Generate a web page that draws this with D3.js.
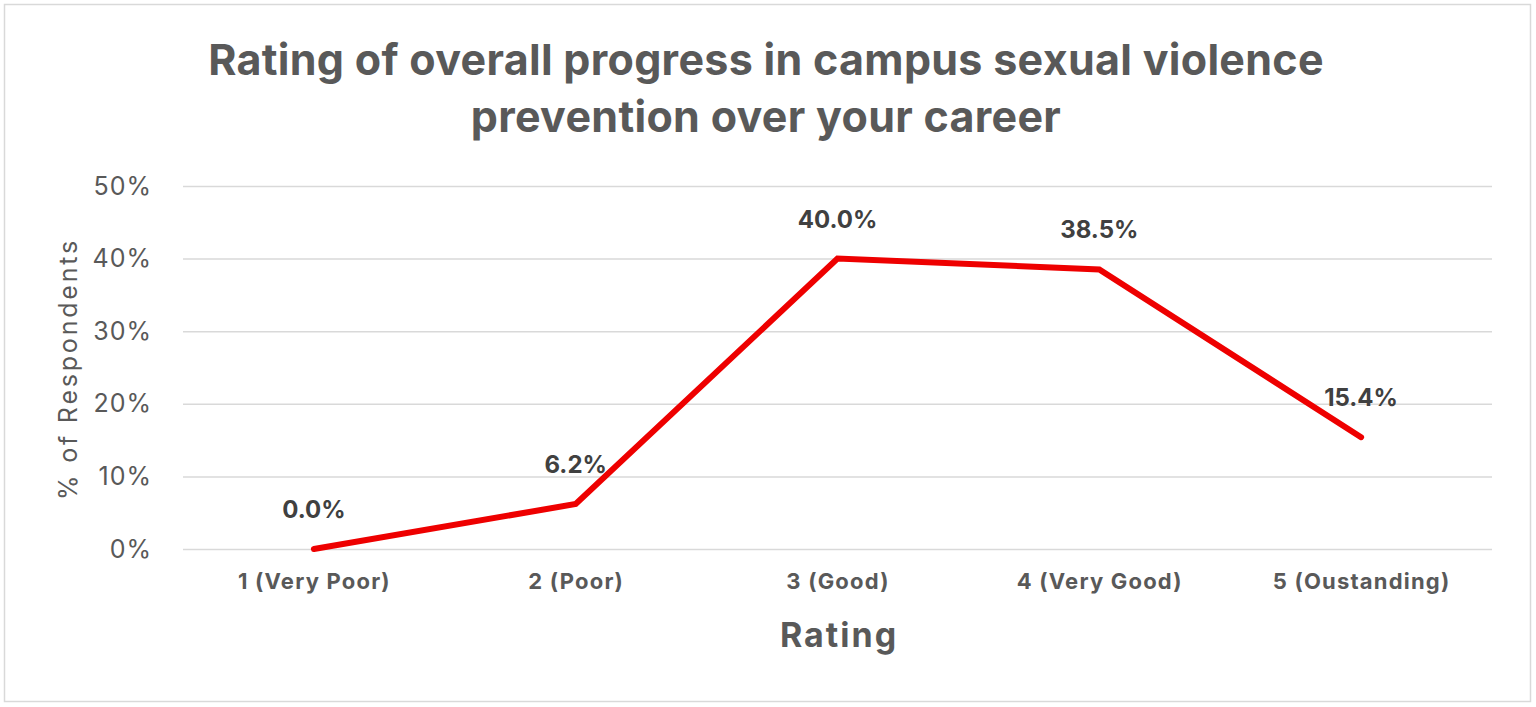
<!DOCTYPE html>
<html><head><meta charset="utf-8">
<script src="https://cdn.jsdelivr.net/npm/d3@7"></script>
<style>body{margin:0;background:#fff}svg{display:block}</style>
</head><body>
<svg id="chart" width="1536" height="707"></svg>
<script>
const categories = ["1 (Very Poor)", "2 (Poor)", "3 (Good)", "4 (Very Good)", "5 (Oustanding)"];
const values = [0.0, 6.2, 40.0, 38.5, 15.4];
const yTicks = [0, 10, 20, 30, 40, 50];
const titleLines = ["Rating of overall progress in campus sexual violence", "prevention over your career"];

(function () {
const font = "Inter, 'Open Sans', 'Liberation Sans', sans-serif";
const svg = d3.select("#chart");
svg.append("rect").attr("x", 4.5).attr("y", 4.5).attr("width", 1526).attr("height", 697)
  .attr("fill", "#fff").attr("stroke", "#d9d9d9").attr("stroke-width", 1.5);

const pLeft = 183, pRight = 1492, pTop = 186, pBottom = 549;
const x = d3.scalePoint().domain(categories).range([pLeft, pRight]).padding(0.5);
const y = d3.scaleLinear().domain([0, 50]).range([pBottom, pTop]);

// title
svg.append("g").selectAll("text").data(titleLines).join("text")
  .attr("x", 766).attr("y", (d, i) => 75 + i * 57)
  .attr("text-anchor", "middle").attr("font-family", font).attr("font-weight", 700)
  .attr("font-size", 43).attr("letter-spacing", 0.3).attr("fill", "#595959").text(d => d);

// grid
const yAxis = d3.axisLeft(y).tickValues(yTicks).tickSize(-(pRight - pLeft)).tickFormat(d => d + "%").tickPadding(31);
const gy = svg.append("g").attr("transform", `translate(${pLeft},0)`).call(yAxis);
gy.select(".domain").remove();
gy.selectAll(".tick line").attr("stroke", "#d9d9d9").attr("stroke-width", 1.5);
gy.selectAll(".tick text").attr("font-family", font).attr("font-size", 25).attr("letter-spacing", 1).attr("fill", "#595959");

// x axis labels
const xAxis = d3.axisBottom(x).tickSize(0).tickPadding(24);
const gx = svg.append("g").attr("transform", `translate(0,${pBottom})`).call(xAxis);
gx.select(".domain").remove();
gx.selectAll(".tick text").attr("font-family", font).attr("font-size", 22).attr("letter-spacing", 1.2)
  .attr("font-weight", 700).attr("fill", "#595959");

// axis titles
svg.append("text").attr("transform", `translate(77,369) rotate(-90)`).attr("text-anchor", "middle")
  .attr("font-family", font).attr("font-size", 25).attr("letter-spacing", 2.8).attr("fill", "#595959").text("% of Respondents");
svg.append("text").attr("x", 839).attr("y", 647).attr("text-anchor", "middle")
  .attr("font-family", font).attr("font-size", 34).attr("letter-spacing", 2).attr("font-weight", 700).attr("fill", "#595959").text("Rating");

// line
const line = d3.line().x((d, i) => x(categories[i])).y(d => y(d));
svg.append("path").datum(values).attr("d", line).attr("fill", "none")
  .attr("stroke", "#ee0000").attr("stroke-width", 6).attr("stroke-linecap", "round").attr("stroke-linejoin", "miter");

// data labels
svg.append("g").selectAll("text").data(values).join("text")
  .attr("x", (d, i) => x(categories[i])).attr("y", d => y(d) - 31)
  .attr("text-anchor", "middle").attr("font-family", font).attr("font-weight", 700)
  .attr("font-size", 24).attr("fill", "#404040").text(d => d.toFixed(1) + "%");
})();
</script>
</body></html>
